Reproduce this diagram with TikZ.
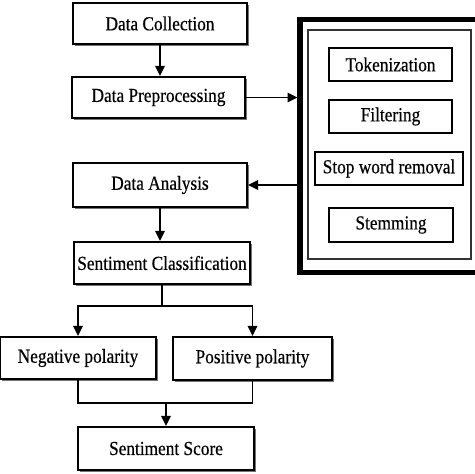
\documentclass[tikz,border=0pt]{standalone}
\usepackage{fontspec}
\setmainfont{Liberation Serif}[FakeStretch=0.87,FakeBold=0.4]
\usetikzlibrary{arrows.meta,shadows}
\begin{document}
\begin{tikzpicture}[x=0.75pt,y=0.75pt,yscale=-1,xscale=1,
  stage/.style={draw,line width=1.6pt,fill=white,inner sep=0pt,font=\fontsize{14.9}{17}\selectfont,
    drop shadow={shadow xshift=1.6pt,shadow yshift=-1.6pt,fill=black!55,opacity=1}},
  substep/.style={draw,line width=1.4pt,inner sep=0pt,font=\fontsize{14.9}{17}\selectfont},
  link/.style={line width=1.4pt},
  arr/.style={link,-{Triangle[length=7.5pt,width=7pt]}}]
\useasboundingbox (0,0) rectangle (474,474);

%Frame of the preprocessing steps
\draw[line width=4pt] (480,19.5) -- (300,19.5) -- (300,272.5) -- (480,272.5) ;
\draw[line width=1.3pt,black!80] (308,30) rectangle (471,259) ;
\coordinate (frameW) at (297.5,150) ;

% Stage Nodes
\node[stage,minimum width=130.5pt,minimum height=30.75pt] (coll) at (160,23.5) {Data Collection};
\node[stage,minimum width=129.75pt,minimum height=30.75pt] (prep) at (158.5,97.5) {Data Preprocessing};
\node[stage,minimum width=130.5pt,minimum height=33pt] (anal) at (160,185) {Data Analysis};
\node[stage,minimum width=132pt,minimum height=31.5pt] (cls) at (162,263) {Sentiment Classification};
\node[stage,minimum width=117pt,minimum height=31.5pt] (neg) at (78,358) {Negative polarity};
\node[stage,minimum width=119.25pt,minimum height=32.25pt] (pos) at (252.5,358.5) {Positive polarity};
\node[stage,minimum width=132pt,minimum height=32.25pt] (score) at (166,448.5) {Sentiment Score};

% Step Nodes
\node[substep,minimum width=92.25pt,minimum height=24.75pt] (tok) at (390.5,64.5) {Tokenization};
\node[substep,minimum width=92.25pt,minimum height=24.75pt] (filt) at (390.5,116.5) {Filtering};
\node[substep,minimum width=111pt,minimum height=24.75pt] (stop) at (389,168.5) {Stop word removal};
\node[substep,minimum width=93pt,minimum height=25.5pt] (stem) at (391,225) {Stemming};

% Connectors
\draw[arr] (coll.south) -- (coll.south |- prep.north) ;
\draw[arr] (prep.east) -- (prep.east -| frameW) ;
\draw[arr] (anal.east -| frameW) -- (anal.east) ;
\draw[arr] (anal.south) -- (anal.south |- cls.north) ;
\draw[link] (cls.south) -- ++(0,21) coordinate (split) ;
\draw[arr] (split) -| (neg.north) ;
\draw[arr] (split) -| (pos.north) ;
\draw[link] (neg.south) -- ++(0,23) coordinate (merge) -| (pos.south) ;
\draw[arr] (merge -| score.north) -- (score.north) ;
\end{tikzpicture}
\end{document}
